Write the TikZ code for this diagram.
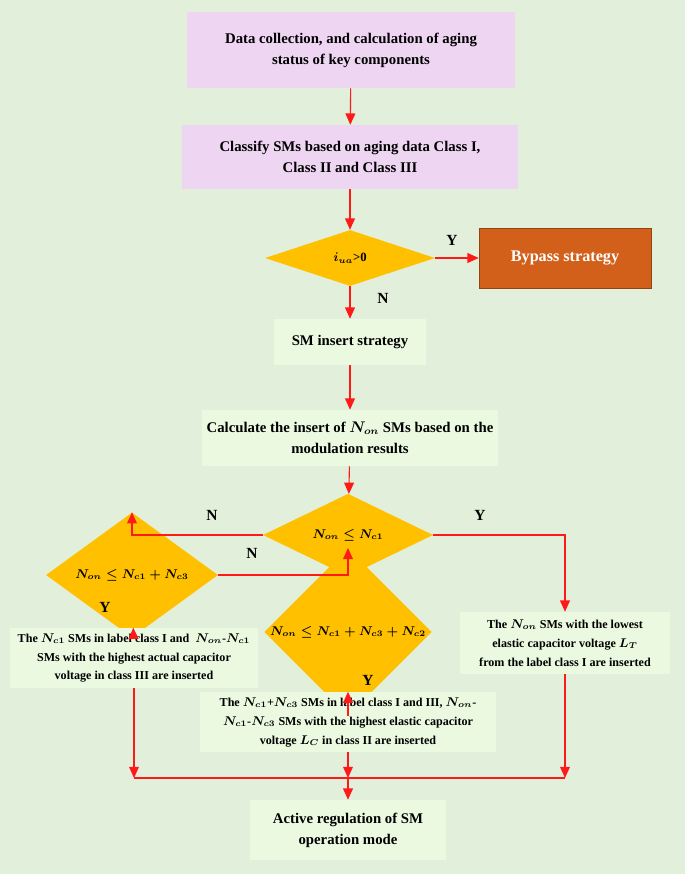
\documentclass[tikz,border=0pt]{standalone}
\usepackage{amsmath}
\usepackage{fontspec}
\setmainfont{Liberation Serif}
\usetikzlibrary{positioning,calc,arrows.meta,shapes.geometric}
\definecolor{bggreen}{HTML}{E2EFDA}
\definecolor{boxgreen}{HTML}{EBF9E1}
\definecolor{boxpink}{HTML}{EED5F2}
\definecolor{dmdyellow}{HTML}{FFC000}
\definecolor{bypassorange}{HTML}{D2601A}
\definecolor{linered}{HTML}{FF1A1A}

\begin{document}
\begin{tikzpicture}[x=0.025cm, y=-0.025cm,
        pinkbox/.style={fill=boxpink, align=center, font=\bfseries\fontsize{10.5}{15}\selectfont},
        greenbox/.style={fill=boxgreen, align=center, font=\bfseries\fontsize{10.5}{15}\selectfont},
        notebox/.style={fill=boxgreen, align=center, inner sep=2pt, font=\bfseries\fontsize{8.6}{13.5}\selectfont},
        decision/.style={diamond, fill=dmdyellow, inner sep=0pt, font=\bfseries\fontsize{9}{11}\selectfont},
        yn/.style={font=\bfseries\fontsize{11}{13}\selectfont},
        flow/.style={draw=linered, thick, -{Triangle[width=7pt,length=8pt]}},
        bus/.style={draw=linered, line width=1.6pt}
    ]
    
    % background
    \fill[bggreen] (0,0) rectangle (685,874);
    
    % top boxes
    \node[pinkbox, minimum width=8.2cm, minimum height=1.9cm] (collect) at (351,50) {Data collection, and calculation of aging\\status of key components};
    \node[pinkbox, minimum width=8.4cm, minimum height=1.6cm] (classify) at (350,157) {Classify SMs based on aging data Class I,\\Class II and Class III};
    
    % current decision and bypass
    \node[decision, minimum width=4.25cm, minimum height=1.4cm] (curr) at (350,258) {$\boldsymbol{i_{ua}}$>0};
    \node[fill=bypassorange, draw=bypassorange!70!black, text=white, minimum width=4.3cm, minimum height=1.5cm,
          font=\bfseries\fontsize{11.5}{14}\selectfont] (bypass) at (565,258) {Bypass strategy};
    
    % insert strategy
    \node[greenbox, minimum width=3.8cm, minimum height=1.15cm] (insert) at (350,342) {SM insert strategy};
    \node[greenbox, minimum width=6cm, minimum height=1.4cm] (calc) at (350,438) {Calculate the insert of $\boldsymbol{N_{on}}$ SMs based on the\\modulation results};
    
    % decisions
    \node[decision, minimum width=4.25cm, minimum height=1.65cm] (first) at (348,535) {$\boldsymbol{N_{on}\leq N_{c1}}$};
    \node[decision, minimum width=4.3cm, minimum height=1.5cm] (second) at (132,575) {$\boldsymbol{N_{on}\leq N_{c1}+ N_{c3}}$};
    \node[decision, minimum width=4.15cm, minimum height=1.4cm] (third) at (348,632) {$\boldsymbol{N_{on}\leq N_{c1}+N_{c3}+N_{c2}}$};
    
    % results
    \node[notebox, minimum width=6.2cm, minimum height=1.5cm] (resleft) at (134,658) {The $\boldsymbol{N_{c1}}$ SMs in label class I and \ $\boldsymbol{N_{on}}$-$\boldsymbol{N_{c1}}$\\SMs with the highest actual capacitor\\voltage in class III are inserted};
    \node[notebox, minimum width=7.4cm, minimum height=1.5cm] (resmid) at (348,722) {The $\boldsymbol{N_{c1}}$+$\boldsymbol{N_{c3}}$ SMs in label class I and III, $\boldsymbol{N_{on}}$-\\$\boldsymbol{N_{c1}}$-$\boldsymbol{N_{c3}}$ SMs with the highest elastic capacitor\\voltage $\boldsymbol{L_C}$ in class II are inserted};
    \node[notebox, minimum width=5.25cm, minimum height=1.55cm] (resright) at (565,643) {The $\boldsymbol{N_{on}}$ SMs with the lowest\\elastic capacitor voltage $\boldsymbol{L_T}$\\from the label class I are inserted};
    
    % final box
    \node[greenbox, minimum width=4.9cm, minimum height=1.5cm] (active) at (348,830) {Active regulation of SM\\operation mode};
    
    % bus
    \coordinate (busL) at (resleft.south |- 0,778);
    \coordinate (busM) at (resmid.south |- 0,778);
    \coordinate (busR) at (resright.south |- 0,778);
    
    % arrows
    \draw[flow] (collect) -- (classify);
    \draw[flow] (classify) -- (curr);
    \draw[flow] (curr) -- (bypass);
    \draw[flow] (curr) -- (insert);
    \draw[flow] (insert) -- (calc);
    \draw[flow] (calc) -- (first);
    \draw[flow] (first.west) -| (second.north);
    \draw[flow] (first.east) -| (resright.north);
    \draw[flow] (second.east) -| (third.north);
    \draw[flow] (second) -- (resleft);
    \draw[flow] (third) -- (resmid);
    \draw[flow] (resleft) -- (busL);
    \draw[flow] (resmid) -- (busM);
    \draw[flow] (resright) -- (busR);
    \draw[bus] (busL) -- (busR);
    \draw[flow] (busM) -- (active);
    
    % Y / N labels
    \node[yn] (ycurr) at (452,240) {Y};
    \node[yn] (ncurr) at (383,298) {N};
    \node[yn] (nfirst) at (212,515) {N};
    \node[yn] (yfirst) at (480,515) {Y};
    \node[yn] (nsecond) at (252,553) {N};
    \node[yn] (ysecond) at (105,607) {Y};
    \node[yn] (ythird) at (368,680) {Y};
    
\end{tikzpicture}
\end{document}
